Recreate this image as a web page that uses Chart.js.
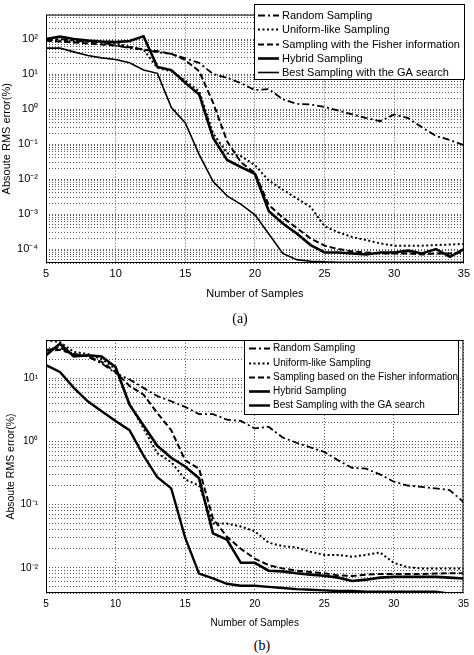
<!DOCTYPE html>
<html>
<head>
<meta charset="utf-8">
<script src="https://cdn.jsdelivr.net/npm/chart.js@4.4.1/dist/chart.umd.min.js"></script>
<style>
  body { margin: 0; background: #fff; }
  #page { position: relative; width: 474px; height: 655px; overflow: hidden; }
  canvas { position: absolute; left: 0; }
  .cap {
    position: absolute;
    font-family: "Liberation Serif", "Times New Roman", serif;
    font-size: 14px;
    color: #000;
    transform: translate(-50%, -50%);
  }
</style>
</head>
<body>
<div id="page">
  <canvas id="chart-a" width="474" height="312" style="top:0"></canvas>
  <canvas id="chart-b" width="474" height="310" style="top:326px"></canvas>
  <div class="cap" style="left:240px;top:319px">(a)</div>
  <div class="cap" style="left:262px;top:646px">(b)</div>
</div>
<script>
// Number of samples (x axis)
const samples = [5, 6, 7, 8, 9, 10, 11, 12, 13, 14, 15, 16, 17, 18, 19, 20,
                 21, 22, 23, 24, 25, 26, 27, 28, 29, 30, 31, 32, 33, 34, 35];

const namesA = ['Random Sampling', 'Uniform-like Sampling', 'Sampling with the Fisher information',
                'Hybrid Sampling', 'Best Sampling with the GA search'];
const namesB = ['Random Sampling', 'Uniform-like Sampling', 'Sampling based on the Fisher information',
                'Hybrid Sampling', 'Best Sampling with the GA search'];

// ---- panel (a), RMS error in % ----
const randomA = [100, 100, 90, 85, 80, 65, 55, 50, 42, 38, 28, 21, 10, 7.8, 5.5, 3.5,
                 3.7, 1.9, 1.4, 1.35, 1.15, 0.9, 0.7, 0.55, 0.45, 0.7, 0.55, 0.3, 0.17, 0.13, 0.093];
const uniformA = [95, 90, 85, 90, 80, 75, 60, 50, 15, 12, 6.5, 3.2, 0.2, 0.055, 0.045, 0.025,
                  0.009, 0.005, 0.0028, 0.0016, 4.5e-4, 3e-4, 2.2e-4, 1.8e-4, 1.45e-4, 1.25e-4,
                  1.25e-4, 1.25e-4, 1.3e-4, 1.35e-4, 1.4e-4];
const fisherA = [90, 85, 80, 75, 70, 65, 58, 50, 45, 38, 25, 12, 1.5, 0.12, 0.03, 0.015,
                 0.0018, 8e-4, 4e-4, 2e-4, 1.25e-4, 1e-4, 8.5e-5, 8e-5, 7.5e-5, 7.5e-5,
                 7.5e-5, 7e-5, 7.5e-5, 7.5e-5, 8e-5];
const hybridA = [100, 117, 100, 90, 85, 82, 88, 120, 16, 13, 5.6, 2.6, 0.15, 0.035, 0.022, 0.014,
                 0.0012, 5.4e-4, 2.8e-4, 1.3e-4, 8e-5, 8e-5, 7.5e-5, 7e-5, 8e-5, 8e-5,
                 9e-5, 7.5e-5, 1e-4, 6e-5, 1e-4];
const bestA = [55, 55, 43, 34, 29, 26, 21, 13, 10.5, 1.1, 0.4, 0.05, 0.0085, 0.0033, 0.0019, 9.5e-4,
               2.7e-4, 7.5e-5, 5e-5, 4.5e-5, 4.3e-5, 4.2e-5, 4.2e-5, 4.2e-5, 4.2e-5, 4.2e-5,
               4.2e-5, 4.2e-5, 4.2e-5, 4.2e-5, 4.2e-5];

// ---- panel (b), RMS error in % ----
const randomB = [28, 30, 24, 22, 17, 12, 9.5, 7, 5.2, 4.3, 3.5, 2.7, 2.7, 2.2, 2.1, 1.6,
                 1.7, 1.15, 0.95, 0.8, 0.68, 0.5, 0.38, 0.37, 0.3, 0.23, 0.2, 0.19, 0.18, 0.17, 0.11];
const uniformB = [40, 37, 26, 24, 20, 14, 4.0, 1.6, 0.65, 0.47, 0.25, 0.2, 0.05, 0.05, 0.045, 0.038,
                  0.025, 0.022, 0.021, 0.018, 0.016, 0.016, 0.015, 0.016, 0.0175, 0.012,
                  0.0102, 0.0098, 0.0098, 0.0098, 0.0098];
const fisherB = [27, 28, 24, 22, 18, 12.5, 7.5, 5.5, 2.8, 1.5, 0.5, 0.37, 0.06, 0.031, 0.02, 0.014,
                 0.011, 0.0098, 0.009, 0.0086, 0.0082, 0.0076, 0.0074, 0.0078, 0.008, 0.008,
                 0.008, 0.008, 0.0081, 0.0082, 0.0082];
const hybridB = [23, 35, 22, 23, 22, 15, 3.8, 1.8, 0.85, 0.55, 0.4, 0.26, 0.035, 0.028, 0.012, 0.012,
                 0.009, 0.0088, 0.0082, 0.0078, 0.0075, 0.007, 0.0062, 0.0065, 0.007, 0.0072,
                 0.0072, 0.0072, 0.0072, 0.007, 0.0068];
const bestB = [16, 12.5, 7, 4.3, 3.0, 2.1, 1.5, 0.6, 0.27, 0.18, 0.03, 0.0081, 0.0068, 0.0056, 0.0052, 0.0052,
               0.005, 0.0048, 0.0046, 0.0045, 0.0044, 0.0043, 0.0043, 0.0042, 0.0042, 0.0042,
               0.0042, 0.0042, 0.0042, 0.0039, 0.0039];

// axis decades (log grid every 1..9 x 10^n)
const decadesA = [1e-5, 1e-4, 1e-3, 1e-2, 1e-1, 1, 10, 100];
const decadesB = [1e-3, 1e-2, 1e-1, 1, 10];
const xTicks = [5, 10, 15, 20, 25, 30, 35];

const FONT = '"Liberation Sans", Arial, Helvetica, sans-serif';
const GRID = '#5a5a5a';

// dash patterns for the five series
const dashes = [[7, 3, 2, 3], [2, 2.5], [6, 3], [], []];

const sup = { '-': '\u207B', '0': '\u2070', '1': '\u00B9', '2': '\u00B2', '3': '\u00B3', '4': '\u2074', '5': '\u2075' };

function decadeLabel(v) {
    const e = Math.log10(v);
    const r = Math.round(e);
    if (Math.abs(e - r) > 1e-6) {
        return '';
    }
    return '10' + String(r).split('').map(c => sup[c]).join('');
}

function logGrid(decades, min, max) {
    const out = [];
    decades.forEach(d => {
        for (let k = 1; k <= 9; k++) {
            const v = k * d;
            if (v >= min * 0.999 && v <= max * 1.001) out.push(v);
        }
    });
    return out;
}

function makeDatasets(names, series, widths) {
    return series.map((vals, i) => ({
        label: names[i],
        data: samples.map((s, j) => ({ x: s, y: vals[j] })),
        borderColor: '#000',
        backgroundColor: '#000',
        borderWidth: widths[i],
        borderDash: dashes[i],
        pointRadius: 0,
        tension: 0,
        fill: false
    }));
}

// Frame around the plot + boxed legend inside the axes (MATLAB style)
const frameLegend = {
    id: 'frameLegend',
    afterDatasetsDraw(chart, args, opts) {
        const { ctx, chartArea: a } = chart;
        ctx.save();
        ctx.setLineDash([]);
        ctx.strokeStyle = '#000';
        ctx.lineWidth = 1;
        ctx.strokeRect(a.left + 0.5, a.top + 0.5, a.right - a.left - 1, a.bottom - a.top - 1);

        const b = opts.box;
        ctx.fillStyle = '#fff';
        ctx.fillRect(b.x, b.y, b.w, b.h);
        ctx.strokeRect(b.x + 0.5, b.y + 0.5, b.w - 1, b.h - 1);
        ctx.font = opts.fontSize + 'px ' + FONT;
        ctx.textBaseline = 'middle';
        ctx.textAlign = 'left';
        chart.data.datasets.forEach((ds, i) => {
            const y = Math.round(b.y + opts.rowTop + i * opts.rowGap) + 0.5;
            ctx.beginPath();
            ctx.setLineDash(ds.borderDash || []);
            ctx.lineWidth = ds.borderWidth;
            ctx.moveTo(opts.lineX0, y);
            ctx.lineTo(opts.lineX1, y);
            ctx.stroke();
            ctx.setLineDash([]);
            ctx.fillStyle = '#000';
            ctx.fillText(ds.label, opts.textX, y);
        });
        ctx.restore();
    }
};

function buildChart(id, cfg) {
    const yTicks = logGrid(cfg.decades, cfg.yMin, cfg.yMax);
    return new Chart(document.getElementById(id), {
        type: 'line',
        data: { datasets: makeDatasets(cfg.names, cfg.series, cfg.widths) },
        plugins: [frameLegend],
        options: {
            responsive: false,
            devicePixelRatio: 1,
            animation: false,
            layout: { padding: { top: cfg.padTop, right: 9, left: 0, bottom: 0 } },
            plugins: {
                legend: { display: false },
                tooltip: { enabled: false },
                frameLegend: cfg.legend
            },
            scales: {
                x: {
                    type: 'linear',
                    min: 5,
                    max: 35,
                    afterBuildTicks: function(scale) {
                        scale.ticks = xTicks.map(v => ({ value: v }));
                    },
                    afterFit: function(scale) {
                        scale.height = cfg.xHeight;
                    },
                    ticks: {
                        autoSkip: false,
                        maxRotation: 0,
                        padding: cfg.xTickPad,
                        color: '#000',
                        font: { family: FONT, size: cfg.tickSize }
                    },
                    grid: { color: GRID, lineWidth: 1, drawTicks: false },
                    border: { display: false, dash: [1, 2] },
                    title: {
                        display: true,
                        text: 'Number of Samples',
                        color: '#000',
                        font: { family: FONT, size: cfg.titleSize },
                        padding: { top: 0, bottom: cfg.xTitlePad }
                    }
                },
                y: {
                    type: 'logarithmic',
                    min: cfg.yMin,
                    max: cfg.yMax,
                    afterBuildTicks: function(scale) {
                        scale.ticks = yTicks.map(v => ({ value: v }));
                    },
                    afterFit: function(scale) {
                        scale.width = 46;
                    },
                    ticks: {
                        autoSkip: false,
                        padding: 8,
                        color: '#000',
                        font: { family: FONT, size: cfg.tickSize },
                        callback: function(value) {
                            return decadeLabel(value);
                        }
                    },
                    grid: { color: GRID, lineWidth: 1, drawTicks: false },
                    border: { display: false, dash: [1, 2] },
                    title: {
                        display: true,
                        text: 'Absoute RMS error(%)',
                        color: '#000',
                        font: { family: FONT, size: cfg.yTitleSize },
                        padding: { top: cfg.yTitlePad, bottom: 0 }
                    }
                }
            }
        }
    });
}

buildChart('chart-a', {
    names: namesA,
    series: [randomA, uniformA, fisherA, hybridA, bestA],
    widths: [1.8, 2, 2, 2.6, 1.6],
    decades: decadesA,
    yMin: 4e-5,
    yMax: 500,
    padTop: 4,
    xHeight: 49,
    xTickPad: 4,
    xTitlePad: 11,
    tickSize: 11,
    titleSize: 11,
    yTitleSize: 11,
    yTitlePad: 0,
    legend: {
        box: { x: 254, y: 4, w: 211, h: 76 },
        lineX0: 258, lineX1: 279, textX: 282,
        rowTop: 11, rowGap: 14.25, fontSize: 11
    }
});

buildChart('chart-b', {
    names: namesB,
    series: [randomB, uniformB, fisherB, hybridB, bestB],
    widths: [1.8, 2, 2, 2.6, 2.4],
    decades: decadesB,
    yMin: 0.004,
    yMax: 40,
    padTop: 10,
    xHeight: 43,
    xTickPad: 5,
    xTitlePad: 7,
    tickSize: 10,
    titleSize: 10,
    yTitleSize: 10.5,
    yTitlePad: 5,
    legend: {
        box: { x: 244, y: 14, w: 215, h: 75 },
        lineX0: 249, lineX1: 270, textX: 273,
        rowTop: 8.3, rowGap: 14.2, fontSize: 10
    }
});
</script>
</body>
</html>
